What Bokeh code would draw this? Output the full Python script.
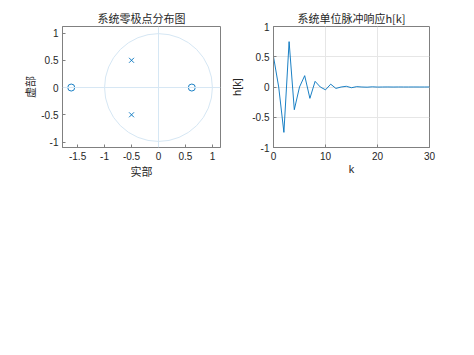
from bokeh.plotting import figure
from bokeh.layouts import row
from bokeh.models import Range1d, FixedTicker, Span
from bokeh.embed import file_html
from bokeh.resources import INLINE

# --- data ---
zeros_re = [0.618, -1.618]
zeros_im = [0.0, 0.0]
poles_re = [-0.5, -0.5]
poles_im = [0.5, -0.5]
circle_x = [0.0]
circle_y = [0.0]
circle_r = [1.0]

k = list(range(31))
h = [0.5, 0.0, -0.75, 0.75, -0.375, 0.0, 0.1875, -0.1875, 0.09375, 0.0,
     -0.046875, 0.046875, -0.0234375, 0.0, 0.01171875, -0.01171875,
     0.005859375, 0.0, -0.0029296875, 0.0029296875, -0.00146484375, 0.0,
     0.000732421875, -0.000732421875, 0.0003662109375, 0.0,
     -0.00018310546875, 0.00018310546875, -0.000091552734375, 0.0,
     0.0000457763671875]

left_xticks = [-1.5, -1, -0.5, 0, 0.5, 1]
left_xlabels = ["-1.5", "-1", "-0.5", "0", "0.5", "1"]
yticks = [-1, -0.5, 0, 0.5, 1]
ylabels = ["-1", "-0.5", "0", "0.5", "1"]
right_xticks = [0, 10, 20, 30]
right_xlabels = ["0", "10", "20", "30"]

BLUE = "#0072BD"
LIGHT = "#d6e7f4"
AXC = "#262626"
BOX = "#808080"
CJK = "Noto Sans CJK SC"
LAT = "Liberation Sans"


def style(p, xt, xl, yt, yl):
    p.xaxis.ticker = FixedTicker(ticks=xt)
    p.yaxis.ticker = FixedTicker(ticks=yt)
    p.xaxis.major_label_overrides = {t: l for t, l in zip(xt, xl)}
    p.yaxis.major_label_overrides = {t: l for t, l in zip(yt, yl)}
    for ax in (p.xaxis[0], p.yaxis[0]):
        ax.major_tick_in = 3
        ax.major_tick_out = 0
        ax.minor_tick_in = 0
        ax.minor_tick_out = 0
        ax.axis_line_color = BOX
        ax.major_tick_line_color = BOX
        ax.major_label_text_font = LAT
        ax.major_label_text_font_size = "10px"
        ax.major_label_text_color = AXC
        ax.axis_label_text_font_style = "normal"
        ax.axis_label_text_color = AXC
        ax.axis_label_text_font_size = "11px"
        ax.major_label_standoff = 4
    p.xaxis.axis_label_standoff = 0
    p.yaxis.axis_label_standoff = 6
    p.outline_line_color = BOX
    p.outline_line_alpha = 1
    p.title.align = "center"
    p.title.text_font_style = "normal"
    p.title.text_font_size = "11px"
    p.title.text_font = CJK
    p.title.text_color = AXC
    p.title.standoff = 1


# --- left: pole-zero plot ---
p1 = figure(width=228, height=355, output_backend="svg", toolbar_location=None,
            x_range=Range1d(-1.78, 1.15), y_range=Range1d(-1.1, 1.12),
            min_border_left=62, min_border_right=8, min_border_top=26,
            min_border_bottom=208, title="系统零极点分布图")
p1.xgrid.visible = False
p1.ygrid.visible = False
p1.circle(x=circle_x, y=circle_y, radius=circle_r, fill_color=None,
          line_color=LIGHT, line_width=1)
p1.add_layout(Span(location=0, dimension="width", line_color=LIGHT, line_width=1))
p1.add_layout(Span(location=0, dimension="height", line_color=LIGHT, line_width=1))
p1.scatter(x=zeros_re, y=zeros_im, marker="circle", size=7, fill_color=None,
           line_color=BLUE, line_width=0.9)
p1.scatter(x=poles_re, y=poles_im, marker="x", size=7, line_color=BLUE, line_width=0.9)
p1.xaxis.axis_label = "实部"
p1.yaxis.axis_label = "虚部"
style(p1, left_xticks, left_xlabels, yticks, ylabels)
p1.xaxis.axis_label_text_font = CJK
p1.yaxis.axis_label_text_font = CJK
p1.yaxis.axis_label_standoff = 0

# --- right: impulse response ---
p2 = figure(width=246, height=355, output_backend="svg", toolbar_location=None,
            x_range=Range1d(0, 30), y_range=Range1d(-1, 1),
            min_border_left=42, min_border_right=45, min_border_top=26,
            min_border_bottom=208, title="系统单位脉冲响应h[k]")
p2.line(x=k, y=h, line_color=BLUE, line_width=0.9)
p2.xaxis.axis_label = "k"
p2.yaxis.axis_label = "h[k]"
style(p2, right_xticks, right_xlabels, yticks, ylabels)
p2.xaxis.axis_label_text_font = LAT
p2.yaxis.axis_label_text_font = LAT
p2.xgrid.grid_line_color = "#e6e6e6"
p2.ygrid.grid_line_color = "#e6e6e6"
p2.xgrid.ticker = FixedTicker(ticks=right_xticks)
p2.ygrid.ticker = FixedTicker(ticks=yticks)

layout = row(p1, p2, spacing=0)
open("out.html", "w").write(file_html(layout, INLINE))
